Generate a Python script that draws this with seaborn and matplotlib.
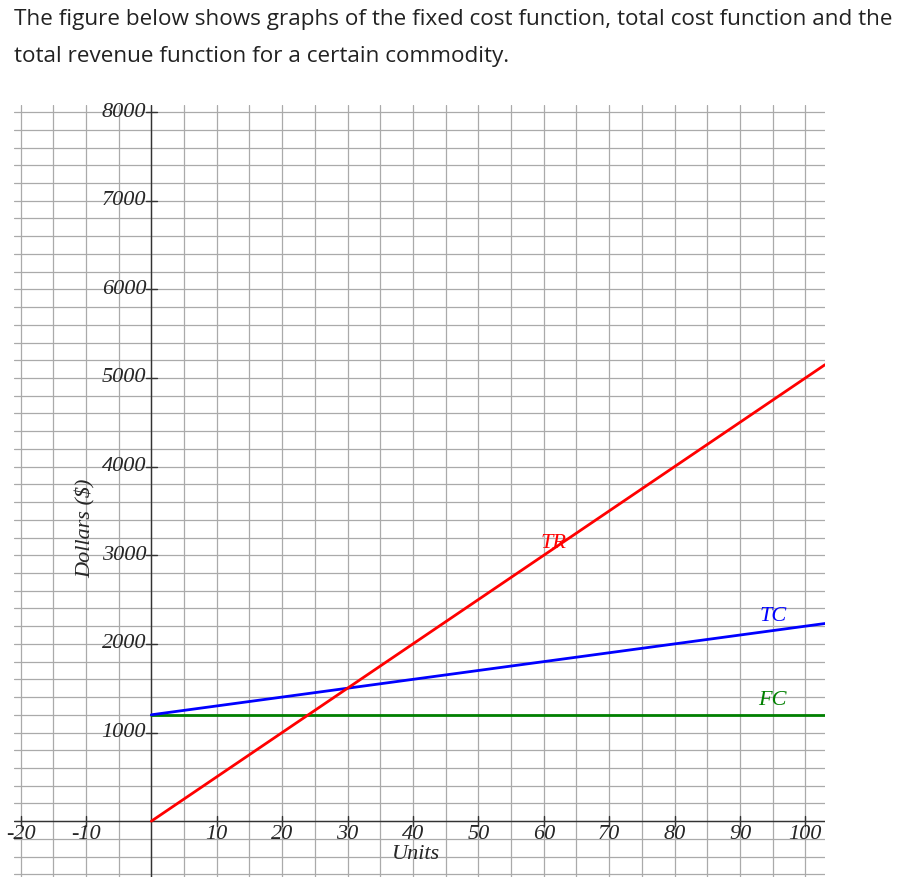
import matplotlib
matplotlib.use("Agg")
import matplotlib.pyplot as plt
import seaborn as sns
import numpy as np
import pandas as pd

units = [0, 103]
fc = [1200, 1200]
tc = [1200, 1200 + 10 * 103]
tr = [0, 50 * 103]
xticks = [-20, -10, 10, 20, 30, 40, 50, 60, 70, 80, 90, 100]
yticks = [1000, 2000, 3000, 4000, 5000, 6000, 7000, 8000]

sns.set_style("white")
fig = plt.figure(figsize=(9.19, 8.77), dpi=100)
fig.text(0.015, 0.978, "The figure below shows graphs of the fixed cost function, total cost function and the",
         fontsize=16.2, family="Open Sans", color="#222222", va="center")
fig.text(0.015, 0.936, "total revenue function for a certain commodity.",
         fontsize=16.2, family="Open Sans", color="#222222", va="center")
ax = fig.add_axes([14/919, 0, 811/919, 1 - 105/877])
ax.set_xlim(-21, 103)
ax.set_ylim(-630, 8080)
for v in np.arange(-20, 104, 5):
    ax.axvline(v, color="#aaaaaa", lw=0.9, zorder=0)
for v in np.arange(-600, 8100, 200):
    ax.axhline(v, color="#aaaaaa", lw=0.9, zorder=0)
ax.axhline(0, color="#333333", lw=1)
ax.axvline(0, color="#333333", lw=1)
df = pd.DataFrame({"x": units * 3, "y": fc + tc + tr, "s": ["FC"] * 2 + ["TC"] * 2 + ["TR"] * 2})
sns.lineplot(data=df, x="x", y="y", hue="s", palette={"FC": "green", "TC": "blue", "TR": "red"},
             lw=2, legend=False, ax=ax)
for s in ax.spines.values():
    s.set_visible(False)
ax.set_xticks([]); ax.set_yticks([])
ax.set_xlabel(""); ax.set_ylabel("")
f = dict(family="Liberation Serif", style="italic", fontsize=16)
for t in xticks:
    ax.text(t, -40, str(t), ha="center", va="top", **f)
    ax.plot([t, t], [-60, 60], color="#333333", lw=1)
for t in yticks:
    ax.text(-0.8, t, str(t), ha="right", va="center", **f)
    ax.plot([-0.8, 0.8], [t, t], color="#333333", lw=1)
ax.text(40.5, -270, "Units", ha="center", va="top", **f)
ax.text(-10, 3300, "Dollars ($)", rotation=90, ha="center", va="center", **f)
ax.text(61.5, 3030, "TR", color="red", ha="center", va="bottom", **f)
ax.text(95, 2200, "TC", color="blue", ha="center", va="bottom", **f)
ax.text(95, 1250, "FC", color="green", ha="center", va="bottom", **f)
fig.savefig("out.png")
